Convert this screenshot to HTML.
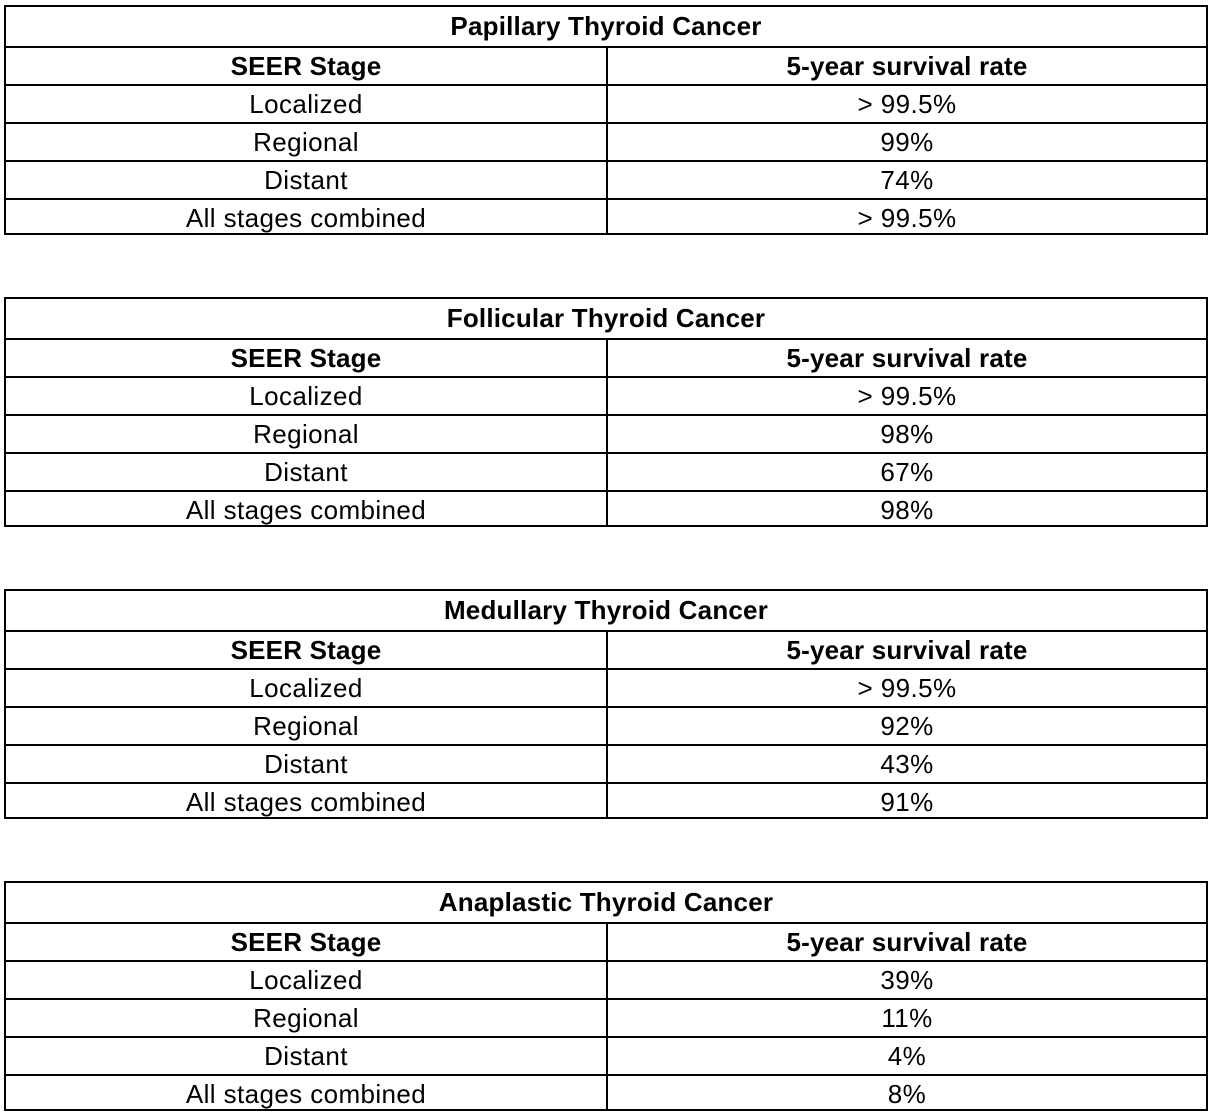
<!DOCTYPE html>
<html><head><style>
body{margin:0;width:1214px;height:1116px;background:#fff;position:relative;font-family:"Liberation Sans",sans-serif;color:#000;overflow:hidden}
.t{position:absolute;left:4px;width:1204px;height:230px;border:2px solid #000;box-sizing:border-box}
.h{position:absolute;left:0;right:0;height:2px;background:#000}
.v{position:absolute;left:600px;width:2px;background:#000;top:39px;bottom:0}
.c{position:absolute;height:38px;line-height:39px;text-align:center;font-size:26px;letter-spacing:0.4px;white-space:nowrap}
.b{font-weight:bold;letter-spacing:0.2px}
</style></head><body>
<script>
const data=[["Papillary Thyroid Cancer",["> 99.5%","99%","74%","> 99.5%"]],
["Follicular Thyroid Cancer",["> 99.5%","98%","67%","98%"]],
["Medullary Thyroid Cancer",["> 99.5%","92%","43%","91%"]],
["Anaplastic Thyroid Cancer",["39%","11%","4%","8%"]]];
const st=["Localized","Regional","Distant","All stages combined"];
let h='';
data.forEach((d,i)=>{
 const top=5+i*292;
 h+=`<div class="t" style="top:${top}px">`;
 h+=`<div class="c b" style="left:0;width:1200px;top:0">${d[0]}</div>`;
 for(let r=0;r<5;r++){h+=`<div class="h" style="top:${39+r*38}px"></div>`}
 h+=`<div class="v"></div>`;
 h+=`<div class="c b" style="left:0;width:600px;top:40px">SEER Stage</div><div class="c b" style="left:602px;width:598px;top:40px">5-year survival rate</div>`;
 for(let r=0;r<4;r++){h+=`<div class="c" style="left:0;width:600px;top:${78+r*38}px">${st[r]}</div><div class="c" style="left:602px;width:598px;top:${78+r*38}px">${d[1][r].replace('>','&gt;')}</div>`}
 h+='</div>';
});
document.write(h);
</script>
</body></html>
